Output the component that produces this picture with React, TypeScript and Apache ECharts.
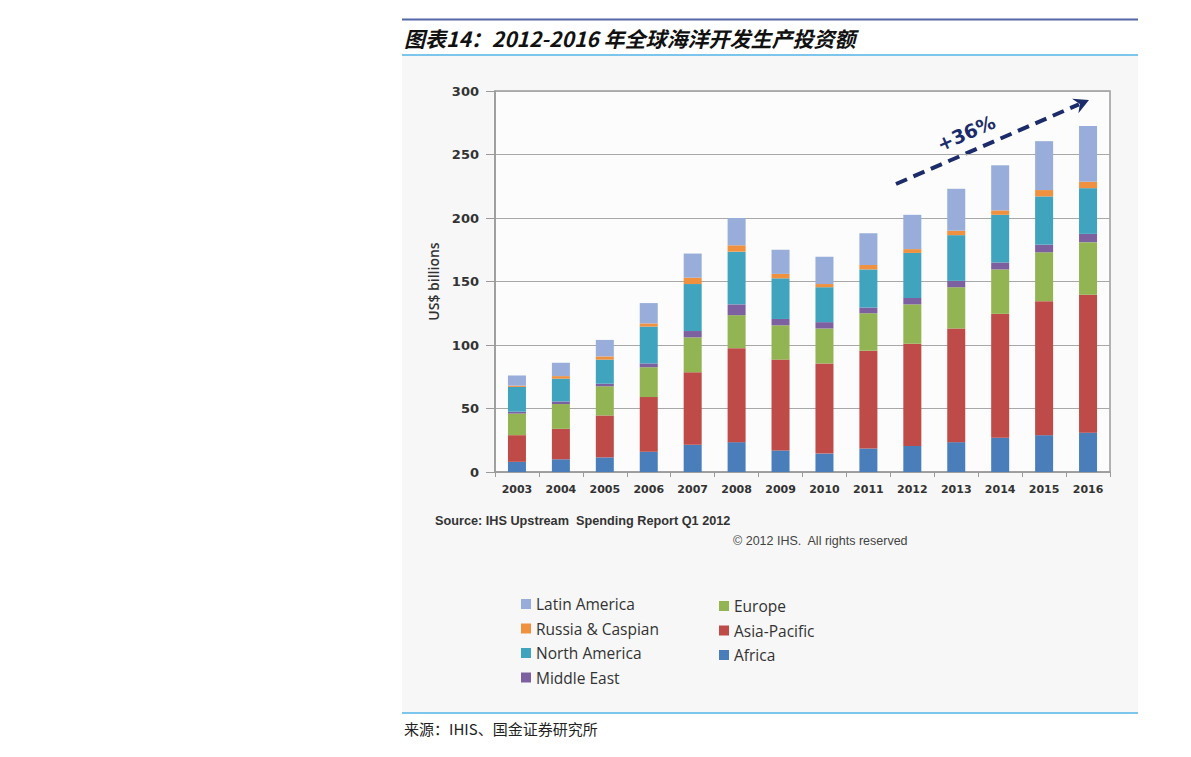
import React, { useEffect, useRef } from "react";
import * as echarts from "echarts";

const years = ["2003","2004","2005","2006","2007","2008","2009","2010","2011","2012","2013","2014","2015","2016"];
const africa = [8, 10, 11.5, 16, 21.5, 23.5, 17, 14.5, 18.5, 20.5, 23.5, 27, 29, 31];
const asiaPacific = [21, 24, 33, 43, 57, 74, 71.5, 71, 77, 80.5, 89.5, 97.5, 105.5, 108.5];
const europe = [17, 19.5, 23, 23.5, 27.5, 26, 27, 27.5, 29.5, 31, 32.5, 35, 38.5, 41.5];
const middleEast = [1.5, 2, 2, 3, 5, 8.5, 5, 5, 4.5, 5, 5, 5.5, 6, 6.5];
const northAmerica = [19.5, 18, 19, 29, 37, 41.5, 32, 27.5, 30, 35.5, 36, 37.5, 38, 36];
const russiaCaspian = [1, 2, 2.5, 2.5, 5, 5, 3.5, 2.5, 3.5, 3, 3.5, 3.5, 5, 5];
const latinAmerica = [8, 10.5, 13, 16, 19, 21.5, 19, 21.5, 25, 27, 33, 35.5, 38.5, 44];
const yTicks = { min: 0, max: 300, interval: 50 };

const seriesDefs = [
  { name: "Africa", data: africa, color: "#4a7ebb" },
  { name: "Asia-Pacific", data: asiaPacific, color: "#be4b48" },
  { name: "Europe", data: europe, color: "#93b452" },
  { name: "Middle East", data: middleEast, color: "#7d60a0" },
  { name: "North America", data: northAmerica, color: "#40a4bf" },
  { name: "Russia & Caspian", data: russiaCaspian, color: "#f0913f" },
  { name: "Latin America", data: latinAmerica, color: "#98add9" },
];
const legendCol1 = ["Latin America", "Russia & Caspian", "North America", "Middle East"];
const legendCol2 = ["Europe", "Asia-Pacific", "Africa"];

const navy = "#1c2c6a";

function arrowHead(tx: number, ty: number, fx: number, fy: number) {
  const dx = tx - fx, dy = ty - fy;
  const n = Math.sqrt(dx * dx + dy * dy);
  const ux = dx / n, uy = dy / n;
  const px = -uy, py = ux;
  const L = 15, W = 8, notch = 10;
  return [
    [tx, ty],
    [tx - L * ux + W * px, ty - L * uy + W * py],
    [tx - notch * ux, ty - notch * uy],
    [tx - L * ux - W * px, ty - L * uy - W * py],
  ];
}

export default function App() {
  const ref = useRef<HTMLDivElement>(null);
  useEffect(() => {
    if (!ref.current) return;
    const chart = echarts.init(ref.current, null, { renderer: "svg" });
    const legendText = { fontFamily: "Open Sans", fontSize: 15.5, fontWeight: 500, color: "#333" };
    const sx = 896, sy = 184, ex = 1089, ey = 100;
    chart.setOption({
      animation: false,
      backgroundColor: "#ffffff",
      grid: {
        left: 495, right: 81, top: 91, bottom: 285,
        show: true, borderColor: "#9a9a9a", borderWidth: 1.5, backgroundColor: "#fcfcfc",
      },
      legend: [
        {
          data: legendCol1, orient: "vertical", left: 516, top: 591,
          itemWidth: 10, itemHeight: 10, itemGap: 8.5, icon: "rect",
          textStyle: legendText,
        },
        {
          data: legendCol2, orient: "vertical", left: 714, top: 593,
          itemWidth: 10, itemHeight: 10, itemGap: 8.5, icon: "rect",
          textStyle: legendText,
        },
      ],
      xAxis: {
        type: "category",
        data: years,
        axisLine: { lineStyle: { color: "#9a9a9a", width: 1.5 } },
        axisTick: { show: true, length: 5, lineStyle: { color: "#9a9a9a" } },
        axisLabel: { margin: 12, fontFamily: "DejaVu Sans", fontWeight: "bold", fontSize: 11, color: "#333" },
      },
      yAxis: {
        type: "value",
        min: yTicks.min, max: yTicks.max, interval: yTicks.interval,
        name: "US$ billions",
        nameLocation: "middle",
        nameGap: 52,
        nameRotate: 90,
        nameTextStyle: { fontFamily: "Open Sans", fontWeight: 600, fontSize: 14, color: "#333" },
        axisLine: { show: true, lineStyle: { color: "#9a9a9a", width: 1.5 } },
        axisTick: { show: true, length: 9, lineStyle: { color: "#9a9a9a" } },
        axisLabel: { margin: 16, fontFamily: "DejaVu Sans", fontWeight: "bold", fontSize: 13, color: "#333" },
        splitLine: { lineStyle: { color: "#a8a8a8", width: 1 } },
      },
      series: seriesDefs.map((s) => ({
        name: s.name,
        type: "bar",
        stack: "total",
        data: s.data,
        barWidth: 18,
        itemStyle: { color: s.color },
      })),
      graphic: [
        { type: "rect", z: -10, shape: { x: 402, y: 55, width: 736, height: 658 }, style: { fill: "#f7f7f7" }, silent: true },
        { type: "line", shape: { x1: 402, y1: 19.5, x2: 1138, y2: 19.5 }, style: { stroke: "#5566a8", lineWidth: 2 } },
        { type: "line", shape: { x1: 402, y1: 55, x2: 1138, y2: 55 }, style: { stroke: "#7cc6ee", lineWidth: 2 } },
        { type: "line", shape: { x1: 402, y1: 713, x2: 1138, y2: 713 }, style: { stroke: "#7cc6ee", lineWidth: 2 } },
        {
          type: "text", x: 404, y: 38,
          style: {
            text: "图表14：2012-2016 年全球海洋开发生产投资额",
            fontFamily: "Noto Sans CJK SC", fontSize: 21, fontWeight: "bold", fontStyle: "italic",
            fill: "#111", verticalAlign: "middle",
          },
        },
        {
          type: "text", x: 435, y: 521,
          style: {
            text: "Source: IHS Upstream  Spending Report Q1 2012",
            fontFamily: "Liberation Sans", fontSize: 12.7, fontWeight: "bold", fill: "#333", verticalAlign: "middle",
          },
        },
        {
          type: "text", x: 733, y: 541,
          style: {
            text: "© 2012 IHS.  All rights reserved",
            fontFamily: "Liberation Sans", fontSize: 12.5, fill: "#444", verticalAlign: "middle",
          },
        },
        {
          type: "text", x: 404, y: 728,
          style: {
            text: "来源：IHIS、国金证券研究所",
            fontFamily: "Noto Sans CJK SC", fontSize: 15, fill: "#222", verticalAlign: "middle",
          },
        },
        {
          type: "line",
          shape: { x1: sx, y1: sy, x2: ex - 11 * 0.917, y2: ey + 11 * 0.399 },
          style: { stroke: navy, lineWidth: 4, lineDash: [12, 7] },
        },
        {
          type: "polygon",
          shape: { points: arrowHead(ex, ey, sx, sy) },
          style: { fill: navy },
        },
        {
          type: "text", x: 966, y: 133, rotation: Math.atan2(sy - ey, ex - sx),
          style: {
            text: "+36%", fontFamily: "DejaVu Sans", fontWeight: "bold", fontSize: 19, fill: navy,
            align: "center", verticalAlign: "middle",
          },
        },
      ],
    });
    return () => chart.dispose();
  }, []);
  return (
    <div
      ref={ref}
      style={{ position: "absolute", left: 0, top: 0, width: 1191, height: 757, background: "#fff" }}
    />
  );
}
